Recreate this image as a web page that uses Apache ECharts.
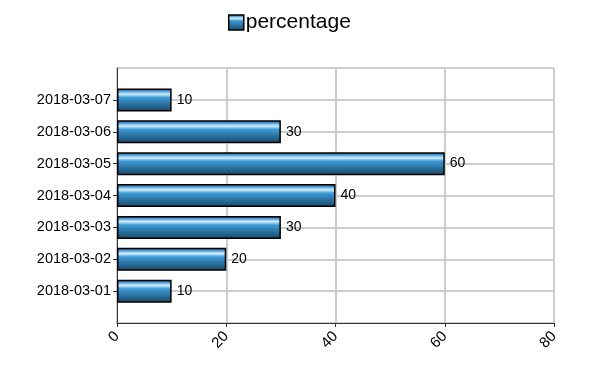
<!DOCTYPE html>
<html>
<head>
<meta charset="utf-8">
<script src="https://cdn.jsdelivr.net/npm/echarts@6/dist/echarts.min.js"></script>
<style>
  html, body { margin: 0; padding: 0; background: #fff; }
  #chart { width: 614px; height: 373px; }
</style>
</head>
<body>
<div id="chart"></div>
<script>
// data
var dates = ['2018-03-01', '2018-03-02', '2018-03-03', '2018-03-04', '2018-03-05', '2018-03-06', '2018-03-07'];
var percentage = [10, 20, 30, 40, 60, 30, 10];
var xTicks = [0, 20, 40, 60, 80];

// empty slots top and bottom so the bars sit on the gridlines
var cats = [''].concat(dates, ['']);
var vals = ['-'].concat(percentage, ['-']);

var barFill = new echarts.graphic.LinearGradient(0, 0, 0, 1, [
  { offset: 0, color: '#1f5f8c' },
  { offset: 0.1, color: '#3a8ccb' },
  { offset: 0.25, color: '#d2effd' },
  { offset: 0.4, color: '#3d9ad6' },
  { offset: 0.7, color: '#2a6f9e' },
  { offset: 1, color: '#1b4663' }
]);

var myChart = echarts.init(document.getElementById('chart'));
myChart.setOption({
  animation: false,
  legend: {
    data: [{ name: 'percentage', icon: 'rect' }],
    top: 7,
    left: 223,
    itemWidth: 15,
    itemHeight: 15,
    itemGap: 2,
    itemStyle: { borderColor: '#000', borderWidth: 1.5 },
    textStyle: { fontFamily: 'Liberation Sans', fontSize: 21, color: '#000', padding: [0, 0, 0, -3] }
  },
  grid: { left: 117, right: 60, top: 68, bottom: 50 },
  xAxis: {
    type: 'value',
    min: xTicks[0],
    max: xTicks[xTicks.length - 1],
    interval: 20,
    axisLine: { show: true, lineStyle: { color: '#333', width: 1 } },
    axisTick: { show: true, length: 4, lineStyle: { color: '#333' } },
    axisLabel: { rotate: 45, fontFamily: 'Liberation Sans', fontSize: 15, color: '#000', margin: 11 },
    splitLine: { show: true, lineStyle: { color: '#cccccc', width: 2 } }
  },
  yAxis: {
    type: 'category',
    data: cats,
    boundaryGap: false,
    axisLine: { show: true, lineStyle: { color: '#333', width: 1 } },
    axisTick: {
      show: true,
      length: 4,
      interval: function (idx, val) { return val !== ''; },
      lineStyle: { color: '#333' }
    },
    axisLabel: { fontFamily: 'Liberation Sans', fontSize: 14.5, color: '#000', margin: 6 },
    splitLine: { show: true, lineStyle: { color: '#cccccc', width: 2 } }
  },
  series: [{
    name: 'percentage',
    type: 'bar',
    data: vals,
    barWidth: 23,
    itemStyle: { color: barFill, borderColor: '#000', borderWidth: 1.5 },
    label: {
      show: true,
      position: 'right',
      distance: 5,
      fontFamily: 'Liberation Sans',
      fontSize: 14,
      color: '#000'
    }
  }]
});
</script>
</body>
</html>
